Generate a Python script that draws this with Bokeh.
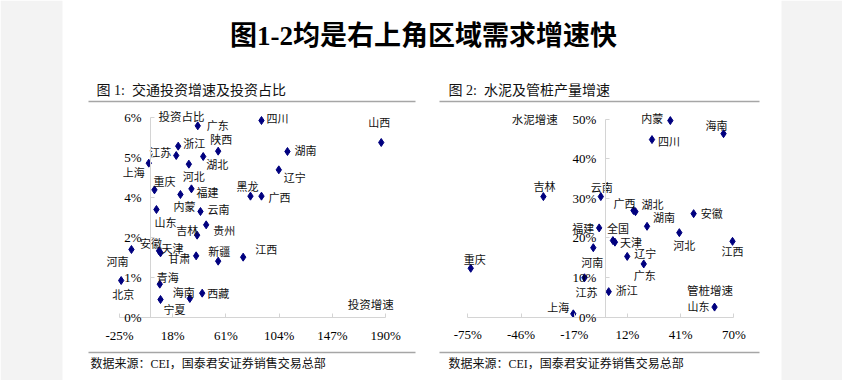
from bokeh.plotting import figure
from bokeh.models import (Range1d, LinearAxis, FixedTicker, PrintfTickFormatter,
                          ColumnDataSource, BoxAnnotation)
from bokeh.core.properties import value
from bokeh.embed import file_html
from bokeh.resources import INLINE

# ---------------- data ----------------
TITLE = "图1-2均是右上角区域需求增速快"
C1_TITLE = "图 1:\u00a0\u00a0交通投资增速及投资占比"
C2_TITLE = "图 2:\u00a0\u00a0水泥及管桩产量增速"
SOURCE_NOTE = "数据来源：CEI，国泰君安证券销售交易总部"

C1_X_TITLE = "投资增速"
C1_Y_TITLE = "投资占比"
C1_X_TICKS = [-25, 18, 61, 104, 147, 190]
C1_Y_TICKS = [0, 1.2, 2.4, 3.6, 4.8, 6.0]
C1_NAMES = ["广东", "浙江", "陕西", "江苏", "上海", "湖北", "河北", "重庆", "福建", "内蒙",
            "云南", "山东", "贵州", "吉林", "河南", "安徽", "天津", "甘肃", "新疆", "江西",
            "北京", "青海", "海南", "西藏", "宁夏", "四川", "山西", "湖南", "辽宁", "黑龙", "广西"]
C1_GROWTH = [38.2, 22.4, 54.7, 20.8, -1.4, 42.6, 31.0, 3.2, 33.1, 24.2,
             40.4, 4.8, 45.0, 37.7, -15.4, 6.9, 8.1, 36.9, 54.7, 74.9,
             -23.7, 7.5, 31.8, 41.8, 8.1, 89.7, 186.5, 110.7, 103.7, 80.8, 89.7]
C1_SHARE = [5.75, 5.14, 4.99, 4.86, 4.63, 4.83, 4.60, 3.83, 3.86, 3.69,
            3.18, 3.24, 2.78, 2.47, 2.04, 2.00, 1.94, 1.85, 1.69, 1.81,
            1.11, 1.00, 0.57, 0.73, 0.54, 5.91, 5.25, 4.98, 4.43, 3.64, 3.64]

C2_X_TITLE = "管桩增速"
C2_Y_TITLE = "水泥增速"
C2_X_TICKS = [-75, -46, -17, 12, 41, 70]
C2_Y_TICKS = [0, 10, 20, 30, 40, 50]
C2_NAMES = ["吉林", "云南", "福建", "河南", "重庆", "江苏", "浙江", "上海", "内蒙", "四川",
            "海南", "广西", "湖北", "安徽", "湖南", "全国", "天津", "辽宁", "广东", "河北",
            "江西", "山东"]
C2_PILE = [-33.8, -2.5, -3.4, -6.6, -73.4, -11.4, 1.8, -17.5, 35.4, 25.4,
           64.4, 15.3, 16.4, 48.1, 22.7, 4.1, 5.2, 11.9, 20.9, 40.3,
           69.3, 59.5]
C2_CEMENT = [30.4, 30.4, 22.5, 17.5, 12.3, 9.9, 6.4, 0.8, 49.6, 44.8,
             46.3, 26.9, 26.6, 26.1, 22.9, 19.3, 18.9, 15.3, 13.4, 21.3,
             19.1, 2.5]

# ---------------- label placement (style, screen px) ----------------
C1_DX = [20, 16, 3, -16, -15, 14, 5, 10, 16, 4, 18, 9, 18, -10, -14, -8, 12, -17, 1, 23,
         2, 8, -6, 16, 14, 16, -2, 18, 16, -3, 18]
C1_DY = [-1, -3, -12, -4, 9, 7, 12, -9, 3, 11, -3, 12, 5, -5, 11, -8, -5, 2, -10, -8,
         13, -7, -7, 0, 9, -3, -21, -2, 7, -10, 1]
C2_DX = [1, 1, -16, -1, 4, 2, 18, -15, -18, 17, -7, -9, 17, 18, 17, 5, 16, 18, 1, 5, 0, -16]
C2_DY = [-11, -10, 0, 14, -9, 14, -2, -7, -3, 1, -9, -7, -8, -1, -9, -13, 0, -3, 11, 12, 10, -1]

W, H = 842, 380
PAGE_OFF = 0
LATIN = "Liberation Serif"
CJK = "Noto Sans CJK SC"
MIXED = "Liberation Serif, Noto Sans CJK SC"
AXIS_COLOR = "#d4d4d4"
MARK = "#00007f"


def mk_range(origin_px, px_per_unit, flip=False):
    lo, hi = PAGE_OFF, PAGE_OFF + (H if flip else W)
    if flip:
        return Range1d(start=(origin_px - hi) / px_per_unit, end=(origin_px - lo) / px_per_unit)
    return Range1d(start=(lo - origin_px) / px_per_unit, end=(hi - origin_px) / px_per_unit)


p = figure(width=W, height=H, x_range=Range1d(PAGE_OFF, PAGE_OFF + W),
           y_range=Range1d(PAGE_OFF + H, PAGE_OFF), min_border=0,
           x_axis_type=None, y_axis_type=None, output_backend="svg",
           toolbar_location=None, outline_line_color=None,
           background_fill_color="white", border_fill_color="white")

p.extra_x_ranges = {"c1x": mk_range(150.0, 266 / 215), "c2x": mk_range(604.9, 266 / 145)}
p.extra_y_ranges = {"c1y": mk_range(317.0, 200 / 6, flip=True),
                    "c2y": mk_range(316.5, 198 / 50, flip=True)}

# page side panels
p.add_layout(BoxAnnotation(right=62, fill_color="#f3f3f3", fill_alpha=1, line_color=None, level="underlay"))
p.add_layout(BoxAnnotation(left=781, fill_color="#f3f3f3", fill_alpha=1, line_color=None, level="underlay"))

# page title
p.text(x=[423], y=[35], text=[TITLE], text_font=value(MIXED), text_font_size="27px",
       text_font_style="bold", text_align="center", text_baseline="middle", text_color="#000000")

# chart headers, rules, footers
p.text(x=[96, 448], y=[90, 90], text=[C1_TITLE, C2_TITLE], text_font=value(MIXED),
       text_font_size="14px", text_align="left", text_baseline="middle", text_color="#111111")
p.segment(x0=[88, 439, 88, 439], x1=[415, 759, 415, 759], y0=[101, 101, 352, 352],
          y1=[101, 101, 352, 352], line_color="#a6a6a6", line_width=1.5)
p.text(x=[90, 448], y=[363, 363], text=[SOURCE_NOTE, SOURCE_NOTE], text_font=value(MIXED),
       text_font_size="12px", text_align="left", text_baseline="middle", text_color="#111111")


def add_axes(xr, yr, xticks, yticks):
    xa = LinearAxis(x_range_name=xr, y_range_name=yr, fixed_location=0,
                    bounds=(xticks[0], xticks[-1]), ticker=FixedTicker(ticks=xticks),
                    formatter=PrintfTickFormatter(format="%d%%"))
    ya = LinearAxis(x_range_name=xr, y_range_name=yr, fixed_location=0,
                    bounds=(yticks[0], yticks[-1]), ticker=FixedTicker(ticks=yticks),
                    formatter=PrintfTickFormatter(format="%.0f%%"))
    for ax, so in ((xa, 10), (ya, 9)):
        ax.axis_line_color = AXIS_COLOR
        ax.major_tick_line_color = AXIS_COLOR
        ax.major_tick_in = 4
        ax.major_tick_out = 0
        ax.minor_tick_line_color = None
        ax.major_label_text_font = LATIN
        ax.major_label_text_font_size = "13px"
        ax.major_label_text_color = "#000000"
        ax.major_label_standoff = so
    p.add_layout(xa, "below")
    p.add_layout(ya, "left")


def add_points(xr, yr, names, xs, ys, dx, dy):
    src = ColumnDataSource(dict(x=xs, y=ys, name=names, dx=dx, dy=dy))
    p.scatter("x", "y", source=src, marker="diamond", size=8, fill_color=MARK,
              line_color=MARK, x_range_name=xr, y_range_name=yr)
    p.text("x", "y", text="name", source=src, x_offset="dx", y_offset="dy",
           x_range_name=xr, y_range_name=yr, text_font=value(CJK), text_font_size="11px",
           text_align="center", text_baseline="middle", text_color="#111111")


add_axes("c1x", "c1y", C1_X_TICKS, C1_Y_TICKS)
add_axes("c2x", "c2y", C2_X_TICKS, C2_Y_TICKS)
add_points("c1x", "c1y", C1_NAMES, C1_GROWTH, C1_SHARE, C1_DX, C1_DY)
add_points("c2x", "c2y", C2_NAMES, C2_PILE, C2_CEMENT, C2_DX, C2_DY)

# axis titles (placed in each chart's own coordinates)
p.text(x=[25.0], y=[6.05], text=[C1_Y_TITLE], x_range_name="c1x", y_range_name="c1y",
       text_font=value(CJK), text_font_size="11.5px", text_align="center", text_baseline="middle",
       text_color="#111111")
p.text(x=[178.0], y=[0.42], text=[C1_X_TITLE], x_range_name="c1x", y_range_name="c1y",
       text_font=value(CJK), text_font_size="11.5px", text_align="center", text_baseline="middle",
       text_color="#111111")
p.text(x=[-38.5], y=[50.0], text=[C2_Y_TITLE], x_range_name="c2x", y_range_name="c2y",
       text_font=value(CJK), text_font_size="11.5px", text_align="center", text_baseline="middle",
       text_color="#111111")
p.text(x=[57.0], y=[6.7], text=[C2_X_TITLE], x_range_name="c2x", y_range_name="c2y",
       text_font=value(CJK), text_font_size="11.5px", text_align="center", text_baseline="middle",
       text_color="#111111")

open("out.html", "w").write(file_html(p, INLINE))
